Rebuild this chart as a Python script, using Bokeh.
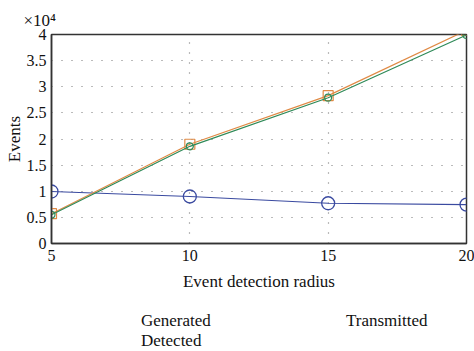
from bokeh.plotting import figure
from bokeh.layouts import column
from bokeh.models import (Range1d, FixedTicker, CustomJSTickFormatter, Legend, LegendItem)
from bokeh.embed import file_html
from bokeh.resources import INLINE

radius = [5, 10, 15, 20]
generated = [9950, 9000, 7700, 7450]
detected = [5700, 19000, 28300, 40800]
transmitted = [5500, 18600, 27900, 39900]
y_ticks = [0, 5000, 10000, 15000, 20000, 25000, 30000, 35000, 40000]
series_names = ["Generated", "Detected", "Transmitted"]

FONT = "Liberation Serif"
BLUE = "#3a4aa0"
ORANGE = "#e08a45"
GREEN = "#2f8a58"

p = figure(width=474, height=297, output_backend="svg", toolbar_location=None,
           x_range=Range1d(5, 20), y_range=Range1d(0, 40000),
           min_border_left=51, min_border_right=8, min_border_top=34, min_border_bottom=54)

p.title.text = "×10⁴"
p.title.align = "left"
p.title.offset = -28
p.title.text_font = FONT
p.title.text_font_size = "17px"
p.title.text_font_style = "normal"
p.title.text_color = "#111111"

p.outline_line_color = "#333333"
p.outline_line_width = 1.5
p.background_fill_color = "white"
p.border_fill_color = "white"

for ax in (p.xaxis[0], p.yaxis[0]):
    ax.major_tick_line_color = None
    ax.minor_tick_line_color = None
    ax.major_tick_out = 0
    ax.major_tick_in = 0
    ax.minor_tick_out = 0
    ax.axis_line_color = "#333333"
    ax.axis_line_width = 1.5
    ax.major_label_text_font = FONT
    ax.major_label_text_font_size = "16px"
    ax.major_label_text_color = "#111111"
    ax.axis_label_text_font = FONT
    ax.axis_label_text_font_size = "17px"
    ax.axis_label_text_font_style = "normal"
    ax.axis_label_text_color = "#111111"

p.xaxis.ticker = FixedTicker(ticks=radius)
p.yaxis.ticker = FixedTicker(ticks=y_ticks)
p.yaxis.formatter = CustomJSTickFormatter(code="return String(tick/1e4);")
p.xaxis.axis_label = "Event detection radius"
p.yaxis.axis_label = "Events"
p.xaxis.major_label_standoff = 6
p.yaxis.major_label_standoff = 5
p.xaxis.axis_label_standoff = 8
p.yaxis.axis_label_standoff = 0

for g in (p.xgrid[0], p.ygrid[0]):
    g.grid_line_color = "#777777"
    g.grid_line_dash = "1 9"
    g.grid_line_width = 1.2

p.line(radius, generated, color=BLUE, line_width=1.2)
p.scatter(radius, generated, marker="circle", size=13, fill_color=None, line_color=BLUE, line_width=1.3)
p.line(radius, detected, color=ORANGE, line_width=1.2)
p.scatter(radius, detected, marker="square", size=10, fill_color=None, line_color=ORANGE, line_width=1.2)
p.line(radius, transmitted, color=GREEN, line_width=1.2)
p.scatter(radius, transmitted, marker="circle", size=7, fill_color=None, line_color=GREEN, line_width=1.2)

# legend strip below the chart
q = figure(width=474, height=54, output_backend="svg", toolbar_location=None,
           x_range=Range1d(0, 1), y_range=Range1d(0, 1),
           x_axis_location=None, y_axis_location=None,
           min_border_left=0, min_border_right=0, min_border_top=0, min_border_bottom=0)
q.grid.visible = False
q.outline_line_color = None
q.background_fill_color = "white"
q.border_fill_color = "white"

lg_g = [q.line([], [], color=BLUE, line_width=1.2),
        q.scatter([], [], marker="circle", size=13, fill_color=None, line_color=BLUE, line_width=1.3)]
lg_d = [q.line([], [], color=ORANGE, line_width=1.2),
        q.scatter([], [], marker="square", size=10, fill_color=None, line_color=ORANGE, line_width=1.2)]
lg_t = [q.line([], [], color=GREEN, line_width=1.2),
        q.scatter([], [], marker="circle", size=7, fill_color=None, line_color=GREEN, line_width=1.2)]

def style(lg):
    lg.label_text_font = FONT
    lg.label_text_font_size = "17px"
    lg.label_text_color = "#111111"
    lg.border_line_color = None
    lg.background_fill_alpha = 0
    lg.padding = 0
    lg.margin = 0
    lg.spacing = 0
    lg.glyph_width = 30
    lg.glyph_height = 20
    lg.label_height = 20
    lg.label_standoff = 10
    return lg

leg1 = style(Legend(items=[LegendItem(label=series_names[0], renderers=lg_g),
                           LegendItem(label=series_names[1], renderers=lg_d)],
                    location=(50, 0), orientation="vertical"))
leg2 = style(Legend(items=[LegendItem(label=series_names[2], renderers=lg_t)],
                    location=(255, 20), orientation="vertical"))
q.add_layout(leg1, "center")
q.add_layout(leg2, "center")

layout = column(p, q, spacing=0)
open("out.html", "w").write(file_html(layout, INLINE))
